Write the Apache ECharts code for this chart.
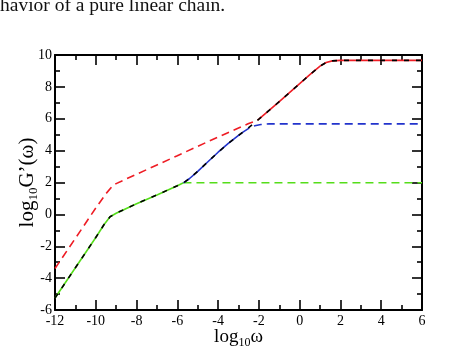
<!DOCTYPE html>
<html>
<head>
<meta charset="utf-8">
<script src="https://cdn.jsdelivr.net/npm/echarts@6/dist/echarts.min.js"></script>
<style>html,body{margin:0;padding:0;background:#fff}#c{width:474px;height:356px}</style>
</head>
<body>
<div id="c"></div>
<script>
// full model (black dashed)
var fullX = [-12, -11, -10, -9.6, -9.3, -9, -8.5, -8, -7, -6, -5.7, -5.4, -5, -4.5, -4, -3.5, -3, -2.8, -2.5, -2.2, -2, -1.5, -1, -0.5, 0, 0.5, 1, 1.3, 1.6, 2, 3, 4, 5, 6];
var fullY = [-5.25, -3.35, -1.45, -0.65, -0.15, 0.07, 0.37, 0.67, 1.22, 1.8, 1.98, 2.25, 2.7, 3.3, 3.9, 4.45, 4.95, 5.15, 5.45, 5.76, 5.97, 6.52, 7.08, 7.64, 8.2, 8.77, 9.3, 9.53, 9.63, 9.66, 9.66, 9.66, 9.66, 9.66];
// green: own plateau
var greenX = [-5.7, 6];
var greenY = [1.98, 1.98];
// blue: own plateau
var blueX = [-2.8, -2.5, -2.2, -1.9, -1.5, 6];
var blueY = [5.15, 5.4, 5.56, 5.64, 5.68, 5.68];
// red: own branch
var redX = [-12, -11, -10, -9.5, -9.2, -9, -8, -7, -6, -5, -4, -3, -2.5, -2.2, -2];
var redY = [-3.4, -1.5, 0.4, 1.3, 1.75, 1.93, 2.52, 3.1, 3.68, 4.27, 4.85, 5.42, 5.7, 5.83, 5.97];
// ticks
var xMin = -12, xMax = 6, xStep = 2;
var yMin = -6, yMax = 10, yStep = 2;

function pairs(xs, ys) { return xs.map(function (x, i) { return [x, ys[i]]; }); }
function fullRange(a, b) {
  var out = [];
  for (var i = 0; i < fullX.length; i++) if (fullX[i] >= a && fullX[i] <= b) out.push([fullX[i], fullY[i]]);
  return out;
}
var RED = '#ee1c24', GREEN = '#55dd1a', BLUE = '#2233cc';
var serif = 'Liberation Serif';

function line(data, color, dash, z, w) {
  return {
    type: 'line', data: data, showSymbol: false, z: z, silent: true,
    lineStyle: { color: color, width: w || 1.6, type: dash || 'solid' }
  };
}

var axisCommon = {
  type: 'value',
  axisLine: { show: true, onZero: false, lineStyle: { color: '#000', width: 2 } },
  axisTick: { show: true, inside: true, length: 10, lineStyle: { color: '#000', width: 1.6 } },
  minorTick: { show: true, splitNumber: 2, length: 5, lineStyle: { color: '#000', width: 1.6 } },
  splitLine: { show: false }
};

var chart = echarts.init(document.getElementById('c'), null, { renderer: 'canvas' });
chart.setOption({
  animation: false,
  backgroundColor: '#fff',
  graphic: [{
    type: 'text', left: 0, top: -4,
    style: { text: 'havior of a pure linear chain.', font: '19.5px "Liberation Serif"', fill: '#111' }
  }],
  grid: { left: 55, right: 52, top: 55, bottom: 46 },
  xAxis: [
    Object.assign({}, axisCommon, {
      position: 'bottom', min: xMin, max: xMax, interval: xStep,
      axisLabel: { margin: 4, color: '#000', fontFamily: serif, fontSize: 14 },
      name: '{a|log}{b|10}{a|ω}', nameLocation: 'middle', nameGap: 15, nameMoveOverlap: false,
      nameTextStyle: {
        rich: {
          a: { fontFamily: serif, fontSize: 19, color: '#000', lineHeight: 24 },
          b: { fontFamily: serif, fontSize: 12, color: '#000', lineHeight: 10, verticalAlign: 'bottom' }
        }
      }
    }),
    Object.assign({}, axisCommon, {
      position: 'top', min: xMin, max: xMax, interval: xStep, axisLabel: { show: false }
    })
  ],
  yAxis: [
    Object.assign({}, axisCommon, {
      position: 'left', min: yMin, max: yMax, interval: yStep,
      axisLabel: { margin: 3, color: '#000', fontFamily: serif, fontSize: 14 },
      name: '{a|log}{b|10}{a|G’(ω)}', nameLocation: 'middle', nameGap: 15, nameRotate: 90, nameMoveOverlap: false,
      nameTextStyle: {
        rich: {
          a: { fontFamily: serif, fontSize: 21, color: '#000', lineHeight: 26 },
          b: { fontFamily: serif, fontSize: 13, color: '#000', lineHeight: 10, verticalAlign: 'bottom' }
        }
      }
    }),
    Object.assign({}, axisCommon, {
      position: 'right', min: yMin, max: yMax, interval: yStep, axisLabel: { show: false }
    })
  ],
  series: [
    line(fullRange(-12, -5.7), GREEN, 'solid', 2),
    line(pairs(greenX, greenY), GREEN, [8, 5], 2),
    line(fullRange(-5.7, -2.8), BLUE, 'solid', 2),
    line(pairs(blueX, blueY), BLUE, [8, 5], 2),
    line(pairs(redX, redY), RED, [8, 5], 2),
    line(fullRange(-2, 6), RED, 'solid', 2),
    line(pairs(fullX, fullY), '#000', [5, 7], 3, 1.6)
  ]
});
</script>
</body>
</html>
